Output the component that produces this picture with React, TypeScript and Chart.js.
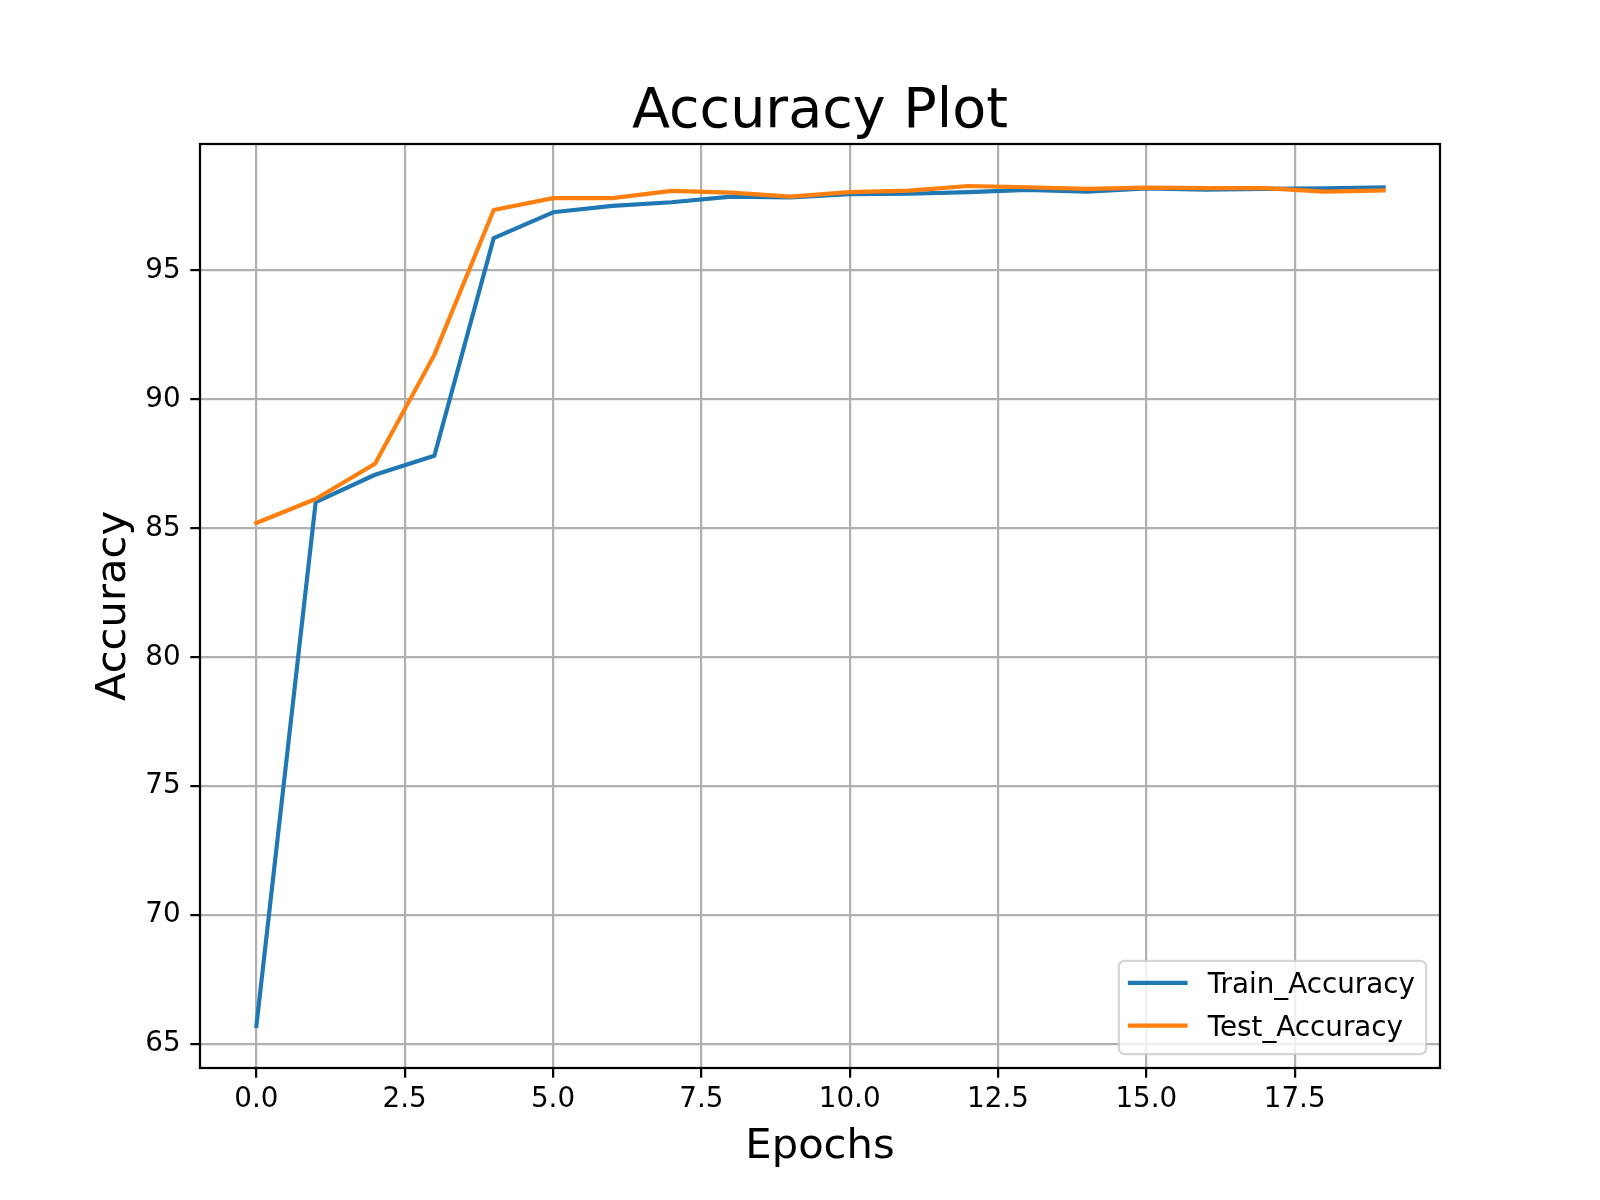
import React, { useEffect, useRef } from "react";
import { Chart, registerables } from "chart.js";

Chart.register(...registerables);

const epochs = [0, 1, 2, 3, 4, 5, 6, 7, 8, 9, 10, 11, 12, 13, 14, 15, 16, 17, 18, 19];
const trainAccuracy = [
  65.7, 86.02, 87.08, 87.82, 96.26, 97.26, 97.51, 97.65, 97.87, 97.84,
  97.96, 97.98, 98.04, 98.13, 98.06, 98.19, 98.14, 98.17, 98.19, 98.23,
];
const testAccuracy = [
  85.21, 86.14, 87.51, 91.73, 97.35, 97.81, 97.81, 98.09, 98.02, 97.87,
  98.04, 98.1, 98.28, 98.23, 98.17, 98.22, 98.2, 98.2, 98.06, 98.11,
];
const seriesLabels = ["Train_Accuracy", "Test_Accuracy"];
const seriesColors = ["#1f77b4", "#ff7f0e"];
const xTicks = [0, 2.5, 5, 7.5, 10, 12.5, 15, 17.5];
const yTicks = [65, 70, 75, 80, 85, 90, 95];
const chartTitle = "Accuracy Plot";
const xLabel = "Epochs";
const yLabel = "Accuracy";

const FONT = '"DejaVu Sans", "Liberation Sans", sans-serif';
const PT = 200 / 72;

function paddedRange(values: number[]) {
  const lo = Math.min(...values);
  const hi = Math.max(...values);
  const m = (hi - lo) * 0.05;
  return [lo - m, hi + m];
}

const decorPlugin = {
  id: "decor",
  afterDraw(chart: any) {
    const ctx = chart.ctx as CanvasRenderingContext2D;
    const ca = chart.chartArea;
    ctx.save();
    // frame (spines)
    ctx.strokeStyle = "#000";
    ctx.lineWidth = 0.8 * PT;
    ctx.strokeRect(ca.left, ca.top, ca.right - ca.left, ca.bottom - ca.top);

    const cx = (ca.left + ca.right) / 2;
    ctx.fillStyle = "#000";
    ctx.textBaseline = "alphabetic";
    ctx.textAlign = "center";
    ctx.font = `${20 * PT}px ${FONT}`;
    ctx.fillText(chartTitle, cx, ca.top - 17);

    ctx.font = `${15 * PT}px ${FONT}`;
    ctx.fillText(xLabel, cx, ca.bottom + 90);

    ctx.save();
    ctx.translate(125, (ca.top + ca.bottom) / 2);
    ctx.rotate(-Math.PI / 2);
    ctx.fillText(yLabel, 0, 0);
    ctx.restore();

    // legend (lower right)
    const fs = 10 * PT;
    ctx.font = `${fs}px ${FONT}`;
    const datasets = chart.data.datasets;
    let maxW = 0;
    datasets.forEach((d: any) => {
      maxW = Math.max(maxW, ctx.measureText(d.label).width);
    });
    const borderPad = 0.4 * fs;
    const handleLen = 2 * fs;
    const handlePad = 0.8 * fs;
    const boxW = borderPad + handleLen + handlePad + maxW + borderPad;
    const right = ca.right - 0.5 * fs;
    const bottom = ca.bottom - 0.5 * fs;
    const top = bottom - 93.3;
    const left = right - boxW;
    const r = 0.2 * fs;
    ctx.beginPath();
    ctx.moveTo(left + r, top);
    ctx.lineTo(right - r, top);
    ctx.arcTo(right, top, right, top + r, r);
    ctx.lineTo(right, bottom - r);
    ctx.arcTo(right, bottom, right - r, bottom, r);
    ctx.lineTo(left + r, bottom);
    ctx.arcTo(left, bottom, left, bottom - r, r);
    ctx.lineTo(left, top + r);
    ctx.arcTo(left, top, left + r, top, r);
    ctx.closePath();
    ctx.fillStyle = "rgba(255,255,255,0.8)";
    ctx.fill();
    ctx.strokeStyle = "rgba(204,204,204,0.8)";
    ctx.lineWidth = 0.8 * PT;
    ctx.stroke();

    const baselines = [bottom - 60.7, bottom - 18];
    datasets.forEach((d: any, i: number) => {
      const by = baselines[i];
      const ly = by - 10.5;
      ctx.beginPath();
      ctx.moveTo(left + borderPad, ly);
      ctx.lineTo(left + borderPad + handleLen, ly);
      ctx.strokeStyle = d.borderColor;
      ctx.lineWidth = 1.5 * PT;
      ctx.lineCap = "square";
      ctx.stroke();
      ctx.fillStyle = "#000";
      ctx.textAlign = "left";
      ctx.textBaseline = "alphabetic";
      ctx.fillText(d.label, left + borderPad + handleLen + handlePad, by);
    });
    ctx.restore();
  },
};

export default function App() {
  const ref = useRef<HTMLCanvasElement | null>(null);

  useEffect(() => {
    document.body.style.margin = "0";
    const canvas = ref.current;
    if (!canvas) return;
    const [xMin, xMax] = paddedRange(epochs);
    const [yMin, yMax] = paddedRange([...trainAccuracy, ...testAccuracy]);
    const tickFont = { family: FONT, size: 10 * PT };

    const chart = new Chart(canvas, {
      type: "line",
      data: {
        datasets: [
          {
            label: seriesLabels[0],
            data: epochs.map((e, i) => ({ x: e, y: trainAccuracy[i] })),
            borderColor: seriesColors[0],
            backgroundColor: seriesColors[0],
            borderWidth: 1.5 * PT,
            pointRadius: 0,
            tension: 0,
            borderCapStyle: "square",
            borderJoinStyle: "round",
            order: 1,
          },
          {
            label: seriesLabels[1],
            data: epochs.map((e, i) => ({ x: e, y: testAccuracy[i] })),
            borderColor: seriesColors[1],
            backgroundColor: seriesColors[1],
            borderWidth: 1.5 * PT,
            pointRadius: 0,
            tension: 0,
            borderCapStyle: "square",
            borderJoinStyle: "round",
            order: 0,
          },
        ],
      },
      options: {
        responsive: false,
        animation: false,
        devicePixelRatio: 1,
        layout: { padding: { left: 0, right: 160, top: 144, bottom: 0 } },
        plugins: {
          legend: { display: false },
          title: { display: false },
          tooltip: { enabled: false },
        },
        scales: {
          x: {
            type: "linear",
            min: xMin,
            max: xMax,
            afterBuildTicks: (s: any) => {
              s.ticks = xTicks.map((v) => ({ value: v }));
            },
            afterFit: (s: any) => {
              s.height = 132;
            },
            grid: {
              color: "#b0b0b0",
              lineWidth: 0.8 * PT,
              drawTicks: true,
              tickLength: 3.5 * PT,
              tickColor: "#000",
              tickWidth: 0.8 * PT,
            },
            border: { display: false },
            ticks: {
              color: "#000",
              font: tickFont,
              padding: 5,
              maxRotation: 0,
              autoSkip: false,
              callback: (v: any) => Number(v).toFixed(1),
            },
          },
          y: {
            type: "linear",
            min: yMin,
            max: yMax,
            afterBuildTicks: (s: any) => {
              s.ticks = yTicks.map((v) => ({ value: v }));
            },
            afterFit: (s: any) => {
              s.width = 200;
            },
            grid: {
              color: "#b0b0b0",
              lineWidth: 0.8 * PT,
              drawTicks: true,
              tickLength: 3.5 * PT,
              tickColor: "#000",
              tickWidth: 0.8 * PT,
            },
            border: { display: false },
            ticks: {
              color: "#000",
              font: tickFont,
              padding: 3.5 * PT,
              autoSkip: false,
              callback: (v: any) => String(v),
            },
          },
        },
      },
      plugins: [decorPlugin],
    } as any);

    return () => chart.destroy();
  }, []);

  return (
    <div style={{ width: 1600, height: 1200, background: "#fff" }}>
      <canvas ref={ref} width={1600} height={1200} style={{ display: "block", width: 1600, height: 1200 }} />
    </div>
  );
}
